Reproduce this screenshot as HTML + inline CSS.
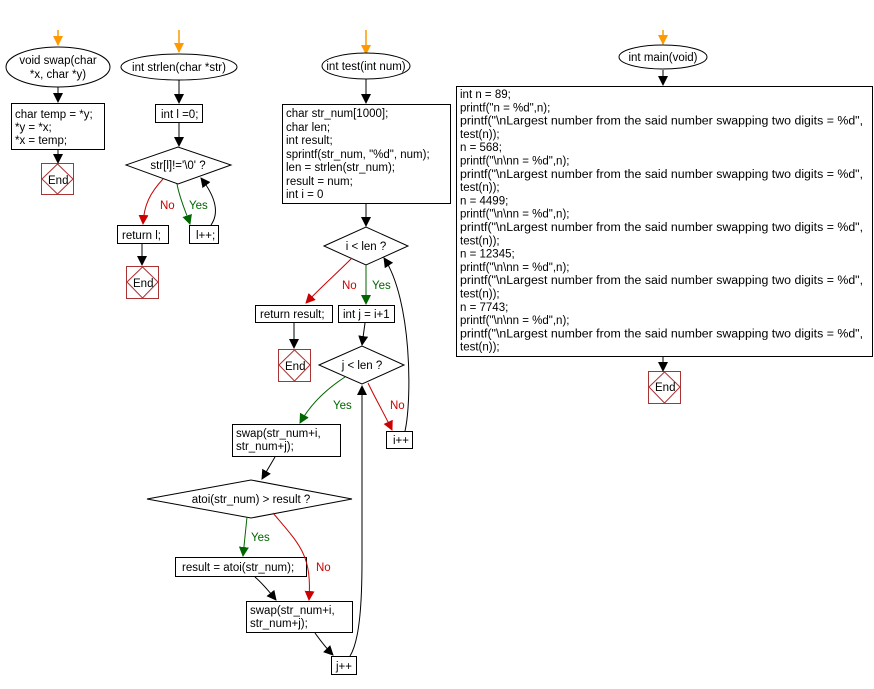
<!DOCTYPE html>
<html><head><meta charset="utf-8"><style>
html,body{margin:0;padding:0;background:#fff;}
svg{display:block;}
text{font-family:"Liberation Sans",Arial,sans-serif;font-size:11.5px;fill:#000;}
</style></head><body>
<svg width="874" height="689" viewBox="0 0 874 689" xmlns="http://www.w3.org/2000/svg">
<defs>
<marker id="ab" markerWidth="10" markerHeight="12" refX="9" refY="5" orient="auto" markerUnits="userSpaceOnUse"><path d="M0,0 L10,5 L0,10 z" fill="#000"/></marker>
<marker id="ar" markerWidth="10" markerHeight="12" refX="9" refY="5" orient="auto" markerUnits="userSpaceOnUse"><path d="M0,0 L10,5 L0,10 z" fill="#c00"/></marker>
<marker id="ag" markerWidth="10" markerHeight="12" refX="9" refY="5" orient="auto" markerUnits="userSpaceOnUse"><path d="M0,0 L10,5 L0,10 z" fill="#060"/></marker>
<marker id="ao" markerWidth="10" markerHeight="12" refX="9" refY="5" orient="auto" markerUnits="userSpaceOnUse"><path d="M0,0 L10,5 L0,10 z" fill="#f90"/></marker>
</defs>
<g fill="none" stroke-width="1.5">
<line x1="58" y1="30" x2="58" y2="45" stroke="#f90" marker-end="url(#ao)"/>
<line x1="179" y1="30" x2="179" y2="52" stroke="#f90" marker-end="url(#ao)"/>
<line x1="366" y1="30" x2="366" y2="54" stroke="#f90" marker-end="url(#ao)"/>
<line x1="663" y1="30" x2="663" y2="44" stroke="#f90" marker-end="url(#ao)"/>
</g>
<g fill="#fff" stroke="#000">
<ellipse cx="58" cy="67" rx="52" ry="20"/>
<ellipse cx="179" cy="67" rx="58" ry="13"/>
<ellipse cx="366" cy="66" rx="44" ry="13"/>
<ellipse cx="663" cy="57" rx="44" ry="12"/>
<rect x="11.5" y="103.5" width="93" height="46"/>
<rect x="155.5" y="104.5" width="47" height="18"/>
<polygon points="126,165 178,147 231,165 178,184"/>
<rect x="117.5" y="225.5" width="51" height="18"/>
<rect x="189.5" y="225.5" width="29" height="18"/>
<rect x="282.5" y="104.5" width="168" height="99"/>
<polygon points="324,246 366,227 408,246 366,265"/>
<rect x="255.5" y="305.5" width="77" height="17"/>
<rect x="338.5" y="305.5" width="56" height="17"/>
<polygon points="319,365 362,346 404,365 362,384"/>
<rect x="232.5" y="424.5" width="108" height="32"/>
<rect x="386.5" y="431.5" width="26" height="17"/>
<polygon points="147,499 251,480 352,499 251,518"/>
<rect x="175.5" y="557.5" width="131" height="19"/>
<rect x="246.5" y="601.5" width="106" height="31"/>
<rect x="331.5" y="656.5" width="25" height="18"/>
<rect x="456.5" y="86.5" width="416" height="270"/>
</g>
<g fill="#fff" stroke="#a33">
<rect x="41.5" y="163.5" width="32" height="31"/><polygon points="42,179 57.5,164 73,179 57.5,194"/>
<rect x="126.5" y="266.5" width="32" height="32"/><polygon points="127,282 142.5,267 158,282 142.5,298"/>
<rect x="278.5" y="349.5" width="32" height="32"/><polygon points="279,365 294.5,350 310,365 294.5,381"/>
<rect x="648.5" y="371.5" width="32" height="32"/><polygon points="649,387 664.5,372 680,387 664.5,403"/>
</g>
<g fill="none" stroke="#000">
<line x1="58" y1="87" x2="58" y2="102" marker-end="url(#ab)"/>
<line x1="58" y1="150" x2="58" y2="163" marker-end="url(#ab)"/>
<line x1="179" y1="80" x2="179" y2="103" marker-end="url(#ab)"/>
<line x1="179" y1="123" x2="179" y2="146" marker-end="url(#ab)"/>
<path d="M211,225 C218,215 218,200 201,178" marker-end="url(#ab)"/>
<line x1="142" y1="244" x2="142" y2="265" marker-end="url(#ab)"/>
<line x1="366" y1="79" x2="366" y2="103" marker-end="url(#ab)"/>
<line x1="366" y1="204" x2="366" y2="226" marker-end="url(#ab)"/>
<line x1="294" y1="323" x2="294" y2="348" marker-end="url(#ab)"/>
<line x1="365" y1="323" x2="362" y2="345" marker-end="url(#ab)"/>
<path d="M405,431 C412,400 412,300 384,258" marker-end="url(#ab)"/>
<line x1="275" y1="457" x2="262" y2="479" marker-end="url(#ab)"/>
<path d="M255,577 C262,583 268,590 276,600" marker-end="url(#ab)"/>
<path d="M315,633 C320,640 326,648 333,655" marker-end="url(#ab)"/>
<path d="M350,656 C360,640 362,600 362,560 L362,386" marker-end="url(#ab)"/>
<line x1="663" y1="70" x2="663" y2="85" marker-end="url(#ab)"/>
<line x1="663" y1="357" x2="663" y2="371" marker-end="url(#ab)"/>
</g>
<g fill="none" stroke="#c00">
<path d="M163,179 C150,193 144,205 143,224" marker-end="url(#ar)"/>
<path d="M352,258 C335,275 320,288 306,303" marker-end="url(#ar)"/>
<path d="M368,383 C375,398 385,415 392,430" marker-end="url(#ar)"/>
<path d="M273,513 C300,545 312,555 309,600" marker-end="url(#ar)"/>
</g>
<g fill="none" stroke="#060">
<path d="M177,184 C180,200 186,212 190,224" marker-end="url(#ag)"/>
<line x1="366" y1="265" x2="366" y2="304" marker-end="url(#ag)"/>
<path d="M345,377 C325,390 310,405 300,423" marker-end="url(#ag)"/>
<path d="M247,517 L243,556" marker-end="url(#ag)"/>
</g>
<text x="58" y="64" text-anchor="middle">void swap(char</text>
<text x="58" y="78" text-anchor="middle">*x, char *y)</text>
<text x="15" y="118">char temp = *y;</text>
<text x="15" y="131">*y = *x;</text>
<text x="15" y="144">*x = temp;</text>
<text x="48" y="184">End</text>
<text x="179" y="71" text-anchor="middle">int strlen(char *str)</text>
<text x="161" y="118">int l =0;</text>
<text x="178" y="169" text-anchor="middle">str[l]!='\0' ?</text>
<text x="160" y="209" style="fill:#c00">No</text>
<text x="189" y="209" style="fill:#060">Yes</text>
<text x="122" y="239">return l;</text>
<text x="196" y="239">l++;</text>
<text x="133" y="287">End</text>
<text x="366" y="70" text-anchor="middle">int test(int num)</text>
<text x="286" y="117">char str_num[1000];</text>
<text x="286" y="131">char len;</text>
<text x="286" y="144">int result;</text>
<text x="286" y="158">sprintf(str_num, "%d", num);</text>
<text x="286" y="171">len = strlen(str_num);</text>
<text x="286" y="185">result = num;</text>
<text x="286" y="198">int i = 0</text>
<text x="366" y="250" text-anchor="middle">i &lt; len ?</text>
<text x="342" y="289" style="fill:#c00">No</text>
<text x="372" y="289" style="fill:#060">Yes</text>
<text x="260" y="318">return result;</text>
<text x="343" y="318">int j = i+1</text>
<text x="285" y="370">End</text>
<text x="362" y="369" text-anchor="middle">j &lt; len ?</text>
<text x="333" y="409" style="fill:#060">Yes</text>
<text x="390" y="409" style="fill:#c00">No</text>
<text x="236" y="437">swap(str_num+i,</text>
<text x="236" y="450">str_num+j);</text>
<text x="393" y="444">i++</text>
<text x="251" y="503" text-anchor="middle">atoi(str_num) &gt; result ?</text>
<text x="251" y="541" style="fill:#060">Yes</text>
<text x="316" y="571" style="fill:#c00">No</text>
<text x="182" y="571">result = atoi(str_num);</text>
<text x="250" y="614">swap(str_num+i,</text>
<text x="250" y="627">str_num+j);</text>
<text x="336" y="670">j++</text>
<text x="663" y="61" text-anchor="middle">int main(void)</text>
<text x="460" y="98">int n = 89;</text>
<text x="460" y="111.3">printf("n = %d",n);</text>
<text x="460" y="124.6" textLength="403" lengthAdjust="spacingAndGlyphs">printf("\nLargest number from the said number swapping two digits = %d",</text>
<text x="460" y="137.9">test(n));</text>
<text x="460" y="151.2">n = 568;</text>
<text x="460" y="164.5">printf("\n\nn = %d",n);</text>
<text x="460" y="177.8" textLength="403" lengthAdjust="spacingAndGlyphs">printf("\nLargest number from the said number swapping two digits = %d",</text>
<text x="460" y="191.1">test(n));</text>
<text x="460" y="204.4">n = 4499;</text>
<text x="460" y="217.7">printf("\n\nn = %d",n);</text>
<text x="460" y="231" textLength="403" lengthAdjust="spacingAndGlyphs">printf("\nLargest number from the said number swapping two digits = %d",</text>
<text x="460" y="244.3">test(n));</text>
<text x="460" y="257.6">n = 12345;</text>
<text x="460" y="270.9">printf("\n\nn = %d",n);</text>
<text x="460" y="284.2" textLength="403" lengthAdjust="spacingAndGlyphs">printf("\nLargest number from the said number swapping two digits = %d",</text>
<text x="460" y="297.5">test(n));</text>
<text x="460" y="310.8">n = 7743;</text>
<text x="460" y="324.1">printf("\n\nn = %d",n);</text>
<text x="460" y="337.4" textLength="403" lengthAdjust="spacingAndGlyphs">printf("\nLargest number from the said number swapping two digits = %d",</text>
<text x="460" y="350.7">test(n));</text>
<text x="655" y="391">End</text>
</svg>
</body></html>
